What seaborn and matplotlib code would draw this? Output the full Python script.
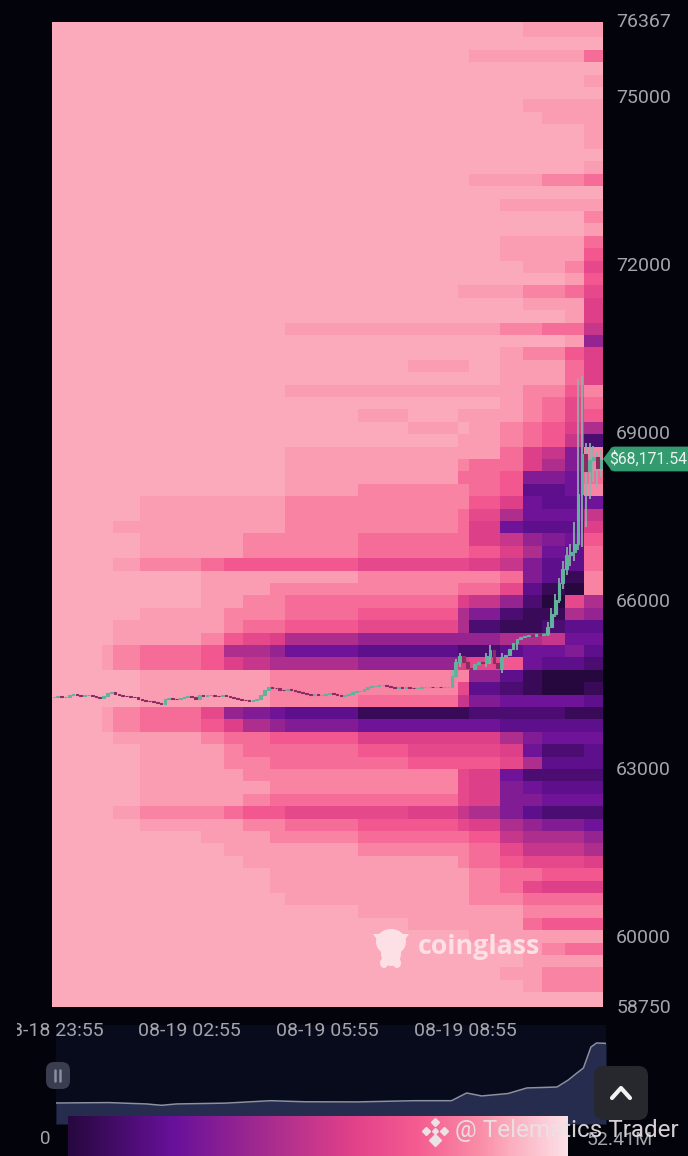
import numpy as np
import pandas as pd
import seaborn as sns
import matplotlib
matplotlib.use("Agg")
import matplotlib.pyplot as plt
from matplotlib.colors import LinearSegmentedColormap
from matplotlib.patches import FancyBboxPatch, Rectangle, Ellipse, Polygon
from matplotlib.lines import Line2D
from matplotlib.transforms import Bbox

sns.set_theme(style="dark")
plt.rcParams["font.family"] = ["Roboto", "DejaVu Sans"]

# ---------- data ----------
time_labels = ["08-18 23:55", "08-19 02:55", "08-19 05:55", "08-19 08:55"]
time_tick_bins = [0, 36, 72, 108]
price_ticks = [58750, 60000, 63000, 66000, 69000, 72000, 75000, 76367]
last_price_label = "$68,171.54"
cbar_max_label = "52.41M"

# 5-minute bins covered by each heat column
col_bins = [13, 3, 7, 16, 6, 5, 7, 4, 19, 13, 13, 3, 8, 6, 5, 6, 5, 5]

# darkness of each cell (hex digit, 0 = palest .. f = darkest), top row first
heat_rows = [
    "000000000000001111", "000000000000001111", "000000000000000000", "000000000000111113",
    "000000000000000000", "000000000000000001", "000000000000000000", "000000000000001111",
    "000000000000000111", "000000000000000001", "000000000000000001", "000000000000000000",
    "000000000000000001", "000000000000111223", "000000000000000000", "000000000000011111",
    "000000000000000002", "000000000000000001", "000000000000011113", "000000000000011114",
    "000000000000001125", "000000000000000014", "000000000001112235", "000000000000001116",
    "000000000000000016", "000000001111122337", "000000000000000019", "000000000000012246",
    "000000000011011136", "000000000000011136", "000000001111112242", "000000000000012353",
    "000000000101112354", "000000000010123468", "00000000000112347d", "0000000011111367a2",
    "0000000011123368a2", "00000000111334aab3", "00000000122234ccb2", "00011111222246bccb",
    "00011111222358bbb7", "0011111122236bccc6", "000111222333679ab4", "000111222333468bc3",
    "00123444455567acc3", "00001111122223ace2", "00001112222335cef2", "00001122333679df58",
    "000112223448adee89", "001112334558deedcc", "0011245689999887bb", "01234889bccddcbbac",
    "01234678899654bccd", "0001111222229cefff", "000111122225cdeffe", "000111122337abbbbc",
    "012359abceeeddddee", "01234689abbbbccccc", "00112334466668abbb", "00011233345556bddc",
    "000112233344458ccc", "0001112222256bdddd", "0001111222256abccc", "0001112333356aabbb",
    "0012234455678acddd", "000111223445689aab", "000011122333478889", "000001111222357778",
    "000000111112345556", "000000011111233444", "000000011111235666", "000000001111223333",
    "000000000111112222", "000000000011113444", "000000000000111111", "000000000000001233",
    "000000000000001111", "000000000000011222", "000000000000001222", "000000000000000000",
    "000000000000000000",
]
# colour-scale value in millions for each darkness digit 0..f
level_values = [46.1, 44.8, 41.9, 38.8, 35.6, 32.0, 29.3, 25.7, 22.0, 18.3, 15.2, 12.1, 9.4, 6.3, 3.1, 0.0]

# candle closes, one per 5-minute bin
closes = [
    64270, 64280, 64260, 64275, 64300, 64320, 64300, 64290, 64300, 64310, 64290, 64270,
    64250, 64290, 64340, 64360, 64320, 64300, 64290, 64280, 64270, 64260, 64240, 64220,
    64200, 64190, 64170, 64160, 64150, 64240, 64250, 64240, 64230, 64250, 64270, 64280,
    64260, 64240, 64310, 64290, 64300, 64310, 64290, 64280, 64300, 64290, 64270, 64250,
    64230, 64220, 64210, 64200, 64210, 64240, 64300, 64400, 64450, 64430, 64420, 64400,
    64390, 64410, 64400, 64380, 64360, 64340, 64330, 64310, 64320, 64300, 64310, 64330,
    64340, 64320, 64300, 64290, 64300, 64330, 64350, 64370, 64380, 64410, 64440, 64460,
    64470, 64480, 64490, 64470, 64450, 64430, 64440, 64430, 64440, 64430, 64420, 64430,
    64440, 64440, 64450, 64440, 64450, 64440, 64450, 64450, 64640, 64900, 65000, 64900,
    64780, 64760, 64860, 64900, 64880, 65000, 65100, 64880, 64780, 64980, 65020, 65120,
    65230, 65300, 65340, 65360, 65380, 65350, 65400, 65370, 65400, 65520, 65750, 66000,
    66300, 66550, 66800, 66850, 67000, 67900, 68600, 68300, 68500, 68550, 68350, 68500,
]
wick_bin = [104, 105, 106, 113, 114, 117, 121, 129, 130, 131, 132, 133, 134, 135, 136, 137, 138, 139, 140, 141, 142, 143]
wick_low = [64450, 64650, 64800, 64800, 64850, 64700, 65100, 65350, 65500, 65700, 65950, 66200, 66450, 66600, 66700, 66900, 66950, 67300, 67800, 68100, 68000, 68200]
wick_high = [64750, 64950, 65050, 65050, 65200, 65060, 65280, 65600, 65850, 66100, 66400, 66700, 66950, 67000, 67400, 69950, 70000, 68800, 68800, 68750, 68650, 68700]

# navigator overview line
nav_time = [0, 14, 24, 28, 32, 45, 57, 66, 80, 95, 105, 109, 113, 120, 125, 133, 136, 138, 140, 141, 142, 143.5, 146]
nav_value = [64250, 64280, 64180, 64080, 64180, 64240, 64420, 64340, 64330, 64420, 64420, 64990, 64770, 64950, 65360, 65430, 65950, 66400, 66830, 67600, 68380, 68680, 68650]
# ---------- end of data ----------

W, H = 688, 1156
BG = "#03040b"
def rect(x0, y0, x1, y1):
    return [x0 / W, 1 - y1 / H, (x1 - x0) / W, (y1 - y0) / H]
def fx(x): return x / W
def fy(y): return 1 - y / H

cbar_stops = [(0, "#26083f"), (.21, "#68109a"), (.39, "#a32a8e"), (.565, "#df4089"),
              (.70, "#f55b90"), (.83, "#f98fa8"), (.88, "#fbaabb"), (1, "#fce0e6")]
cmap = LinearSegmentedColormap.from_list("liq", cbar_stops, N=512)
vmax = 52.41

fig = plt.figure(figsize=(W / 100, H / 100), dpi=100, facecolor=BG)

# navigator backdrop
back = Rectangle((fx(56), fy(1124)), 550 / W, 99 / H, transform=fig.transFigure,
                 facecolor="#080b1c", edgecolor="none", zorder=-1)
fig.patches.append(back)

# heatmap
ax = fig.add_axes(rect(52, 22, 603, 1007))
values = np.array([[level_values[int(c, 16)] for c in r] for r in heat_rows], dtype=float)
matrix = np.repeat(values, col_bins, axis=1)
sns.heatmap(pd.DataFrame(matrix), cmap=cmap, vmin=0, vmax=vmax, cbar=False, ax=ax,
            xticklabels=False, yticklabels=False, linewidths=0, rasterized=True)
ax.set_ylim(80.19, 0.75)
ax.set_xlim(0, 144)
ax.set_xlabel(""); ax.set_ylabel("")
ax.set_yticks([])
ax.set_xticks(time_tick_bins)
ax.set_xticklabels(time_labels, color="#a3a5ab", fontsize=14, rotation=0)
ax.tick_params(axis="x", length=0, pad=11)
for s in ax.spines.values():
    s.set_visible(False)
first = ax.get_xticklabels()[0]
first.set_clip_box(Bbox([[17, 0], [W, H]]))
first.set_clip_on(True)

# price axes with candles
axp = fig.add_axes(rect(52, 19.5, 603, 1006))
axp.patch.set_alpha(0)
axp.set_xlim(0, 144)
axp.set_ylim(price_ticks[0], price_ticks[-1])
axp.set_xticks([])
axp.yaxis.tick_right()
axp.set_yticks(price_ticks)
axp.set_yticklabels([str(p) for p in price_ticks], color="#a3a5ab", fontsize=14)
axp.tick_params(axis="y", length=0, pad=9.5)
for s in axp.spines.values():
    s.set_visible(False)
axp.grid(False)

c = np.array(closes, dtype=float)
o = np.r_[c[0], c[:-1]]
x = np.arange(len(c)) + 0.5
up = c >= o
axp.vlines(np.array(wick_bin) + 0.5, wick_low, wick_high, color="#8fb3ac", lw=1.2, zorder=2)
axp.bar(x[up], (c - o)[up], bottom=o[up], width=0.7, color="#5fb39c", edgecolor="#5fb39c", lw=0.8, zorder=3)
axp.bar(x[~up], (c - o)[~up], bottom=o[~up], width=0.7, color="#8e2a63", edgecolor="#8e2a63", lw=0.8, zorder=3)

# last price tag
fig.patches.append(FancyBboxPatch((fx(611), fy(470)), 90 / W, 22 / H, transform=fig.transFigure,
                                  boxstyle="round,pad=0,rounding_size=0.006", mutation_aspect=0.6,
                                  facecolor="#349a70", edgecolor="#349a70", lw=2))
fig.patches.append(Polygon([(fx(603), fy(459)), (fx(612), fy(447)), (fx(612), fy(471))],
                           transform=fig.transFigure, facecolor="#349a70", edgecolor="none"))
fig.text(fx(609), fy(459), last_price_label, color="#e9f5ef", fontsize=11.3, va="center", ha="left", zorder=6)

# coinglass watermark
wm = "#fde0e6"
for (ex, ey, ew, eh) in [(391, 942, 30, 26), (391, 953, 20, 26), (384, 963, 8, 10), (397, 963, 8, 10)]:
    fig.patches.append(Ellipse((fx(ex), fy(ey)), ew / W, eh / H, transform=fig.transFigure,
                               facecolor=wm, edgecolor="none", zorder=5))
fig.patches.append(Polygon([(fx(373), fy(934)), (fx(409), fy(934)), (fx(401), fy(945)), (fx(381), fy(945))],
                           transform=fig.transFigure, facecolor=wm, edgecolor="none", zorder=5))
fig.text(fx(418), fy(947), "coinglass", color=wm, fontsize=19.3, fontweight="bold",
         family="Open Sans", va="center", ha="left", zorder=6)

# navigator
axn = fig.add_axes(rect(56, 1040, 606, 1124))
axn.patch.set_alpha(0)
nav = pd.DataFrame({"t": nav_time, "v": nav_value})
axn.fill_between(nav["t"], nav["v"], 62700, color="#262c4e", lw=0)
sns.lineplot(data=nav, x="t", y="v", ax=axn, color="#8d90a0", lw=1.1)
axn.set_xlim(0, 146)
axn.set_ylim(62700, 68900)
axn.set_axis_off()

# colour bar
axc = fig.add_axes(rect(68, 1116, 568, 1156))
sns.heatmap(np.linspace(0, vmax, 400)[None, :], cmap=cmap, vmin=0, vmax=vmax, cbar=False, ax=axc,
            xticklabels=False, yticklabels=False, rasterized=True)
axc.set_axis_off()
fig.text(fx(45), fy(1139), "0", color="#a3a5ab", fontsize=13.5, ha="center", va="center")
fig.text(fx(587), fy(1140), cbar_max_label, color="#a3a5ab", fontsize=14, ha="left", va="center")

# pause button
fig.patches.append(FancyBboxPatch((fx(46), fy(1089)), 24 / W, 27 / H, transform=fig.transFigure,
                                  boxstyle="round,pad=0,rounding_size=0.012", mutation_aspect=0.6,
                                  facecolor="#3a3d50", edgecolor="none", zorder=5))
for bx in (54.5, 60):
    fig.add_artist(Line2D([fx(bx), fx(bx)], [fy(1070), fy(1081)], color="#8c8e9b", lw=1.8, zorder=6))

# scroll-up button
fig.patches.append(FancyBboxPatch((fx(594), fy(1120)), 54 / W, 54 / H, transform=fig.transFigure,
                                  boxstyle="round,pad=0,rounding_size=0.014", mutation_aspect=0.6,
                                  facecolor="#26282d", edgecolor="none", zorder=5))
fig.add_artist(Line2D([fx(612), fx(621), fx(630)], [fy(1098), fy(1088), fy(1098)],
                      color="#f2f2f2", lw=3, zorder=6, solid_capstyle="round", solid_joinstyle="round"))

# attribution overlay
lg = "#e9e3e6"
for (dx, dy, ds) in [(435, 1122, 4.5), (426, 1131, 4.5), (444, 1131, 4.5), (435, 1140, 6), (435, 1131, 3)]:
    fig.add_artist(Line2D([fx(dx)], [fy(dy)], marker="D", ms=ds, color=lg, ls="none", zorder=7))
fig.text(fx(455), fy(1131), "@ Telematics Trader", color="#e9e3e6", fontsize=17.5,
         ha="left", va="center", zorder=7, alpha=0.92)

fig.savefig("out.png", dpi=100, facecolor=BG)
